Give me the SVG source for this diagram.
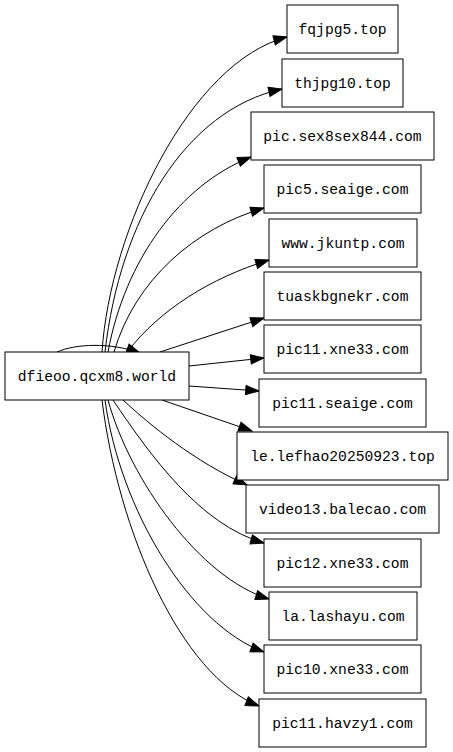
<svg xmlns="http://www.w3.org/2000/svg" width="453" height="752" viewBox="0 0 453 752">
<style>
.n rect{fill:#fff;stroke:#000;stroke-width:1}
.n text{font-family:"Liberation Mono","DejaVu Sans Mono",monospace;font-size:14.67px;text-anchor:middle;fill:#000}
.e path{fill:none;stroke:#000;stroke-width:1;marker-end:url(#ah)}
</style>
<defs>
<marker id="ah" markerUnits="userSpaceOnUse" markerWidth="14" markerHeight="10" refX="13.3" refY="4.67" orient="auto" overflow="visible">
<path d="M0,0 L13.3,4.67 L0,9.33 z" fill="#000" stroke="#000" stroke-width="1"/>
</marker>
</defs>
<rect width="453" height="752" fill="#fff"/>
<g id="connectors" class="e">
<path d="M57,352 C75,344 110,342 140,353"/>
<path d="M102,352 C110,230 190,62 287,37"/>
<path d="M105,352 C120,220 185,110 282,89"/>
<path d="M108,352 C125,260 180,185 251,157"/>
<path d="M114,352 C135,280 195,228 264,208"/>
<path d="M128,351 C160,310 210,278 269,260"/>
<path d="M160,352 L264,318"/>
<path d="M189,366 L264,358"/>
<path d="M189,386 L259,391"/>
<path d="M162,400 L252,431"/>
<path d="M123,400 C150,425 195,462 247,485"/>
<path d="M113,400 C150,455 200,525 264,543"/>
<path d="M108,400 C130,480 200,578 269,599"/>
<path d="M105,400 C120,510 190,625 264,652"/>
<path d="M102,400 C118,530 180,675 259,706"/>
</g>
<g id="n0" class="n"><rect x="5" y="352" width="184" height="48"/><text x="97" y="381">dfieoo.qcxm8.world</text></g>
<g id="n1" class="n"><rect x="287" y="5" width="111" height="48"/><text x="342.5" y="34">fqjpg5.top</text></g>
<g id="n2" class="n"><rect x="282" y="59" width="121" height="48"/><text x="342.5" y="88">thjpg10.top</text></g>
<g id="n3" class="n"><rect x="251" y="112" width="183" height="48"/><text x="342.5" y="141">pic.sex8sex844.com</text></g>
<g id="n4" class="n"><rect x="264" y="165" width="157" height="48"/><text x="342.5" y="194">pic5.seaige.com</text></g>
<g id="n5" class="n"><rect x="269" y="219" width="148" height="48"/><text x="343" y="248">www.jkuntp.com</text></g>
<g id="n6" class="n"><rect x="264" y="272" width="157" height="48"/><text x="342.5" y="301">tuaskbgnekr.com</text></g>
<g id="n7" class="n"><rect x="264" y="325" width="157" height="48"/><text x="342.5" y="354">pic11.xne33.com</text></g>
<g id="n8" class="n"><rect x="259" y="379" width="167" height="48"/><text x="342.5" y="408">pic11.seaige.com</text></g>
<g id="n9" class="n"><rect x="237" y="432" width="211" height="48"/><text x="342.5" y="461">le.lefhao20250923.top</text></g>
<g id="n10" class="n"><rect x="246" y="485" width="193" height="48"/><text x="342.5" y="514">video13.balecao.com</text></g>
<g id="n11" class="n"><rect x="264" y="539" width="157" height="48"/><text x="342.5" y="568">pic12.xne33.com</text></g>
<g id="n12" class="n"><rect x="269" y="592" width="148" height="48"/><text x="343" y="621">la.lashayu.com</text></g>
<g id="n13" class="n"><rect x="264" y="645" width="157" height="48"/><text x="342.5" y="674">pic10.xne33.com</text></g>
<g id="n14" class="n"><rect x="259" y="699" width="167" height="48"/><text x="342.5" y="728">pic11.havzy1.com</text></g>
</svg>
